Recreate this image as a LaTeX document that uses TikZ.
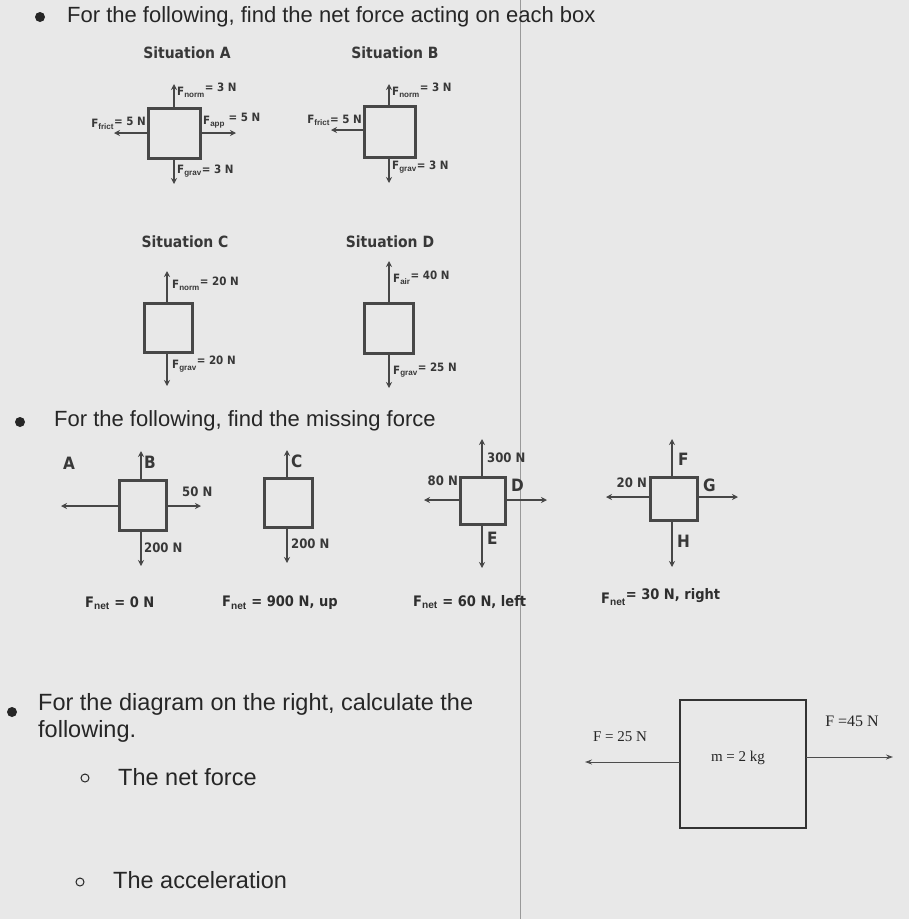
\documentclass[tikz,border=0pt]{standalone}
\usepackage{fontspec}
\usetikzlibrary{arrows.meta}
\setmainfont{Liberation Sans}
\newfontfamily\lab{DejaVu Sans Condensed Bold}
\newfontfamily\serifb{Liberation Serif}
\begin{document}
\begin{tikzpicture}[x=1pt,y=-1pt,
 box/.style={draw=black!72,line width=3pt},
 fa/.style={draw=black!72,line width=2.5pt,-{Stealth[length=6pt,width=6pt]}},
 thin/.style={draw=black!70,line width=1pt,-{Stealth[length=7pt,width=5pt]}},
 lb/.style={font=\lab\fontsize{11.5}{12}\selectfont,text=black!78,inner sep=0pt},
 mid/.style={font=\lab\fontsize{13}{14}\selectfont,text=black!78,inner sep=0pt},
 big/.style={font=\fontsize{17}{18}\selectfont\lab,text=black!78,inner sep=0pt},
 hd/.style={font=\fontsize{22}{26}\selectfont,text=black!85,inner sep=0pt,anchor=west},
 hdl/.style={font=\fontsize{23.5}{27}\selectfont,text=black!85,inner sep=0pt,anchor=west},
 sit/.style={font=\lab\fontsize{15.5}{17}\selectfont,text=black!78,inner sep=0pt},
 fn/.style={font=\lab\fontsize{14.5}{16}\selectfont,text=black!82,inner sep=0pt,anchor=west}]
\fill[gray!18] (0,0) rectangle (909,919);
\useasboundingbox (0,0) rectangle (909,919);
\draw[black!40,line width=0.8pt] (520,0) -- (520,919);
% bullets
\fill[black!85] (40,17) circle (5);
\fill[black!85] (20,422) circle (5);
\fill[black!85] (12,712) circle (5);
\draw[black!85,line width=1pt] (85,778) circle (4);
\draw[black!85,line width=1pt] (80,882) circle (4);
\node[hd] (h1) at (67,17) {For the following, find the net force acting on each box};
\node[hd] (h2) at (54,421) {For the following, find the missing force};
\node[hdl,align=left,anchor=north west] (h3) at (38,693) {For the diagram on the right, calculate the\\following.};
\node[hdl] (h4) at (118,777) {The net force};
\node[hdl] (h5) at (113,880) {The acceleration};
\node[sit] (sa) at (187,53) {Situation A};
\node[sit] (sb) at (395,53) {Situation B};
\node[sit] (sc) at (185,242) {Situation C};
\node[sit] (sd) at (390,242) {Situation D};
% Situation A
\draw[box] (148,108) rectangle (200,158);
\draw[fa] (174,108) -- (174,84);
\draw[fa] (148,133) -- (114,133);
\draw[fa] (200,133) -- (236,133);
\draw[fa] (174,158) -- (174,184);
\node[lb,anchor=west] (an) at (177,90) {F$_{\mathbf{norm}}$\raisebox{4pt}{= 3 N}};
\node[lb,anchor=east] (af) at (146,123) {F$_{\mathbf{frict}}$\raisebox{2pt}{= 5 N}};
\node[lb,anchor=west] (ap) at (203,121) {F$_{\mathbf{app}}$\raisebox{3pt}{ = 5 N}};
\node[lb,anchor=west] (ag) at (177,171) {F$_{\mathbf{grav}}$= 3 N};
% Situation B
\draw[box] (364,106) rectangle (415,157);
\draw[fa] (389,106) -- (389,84);
\draw[fa] (364,130) -- (331,130);
\draw[fa] (389,157) -- (389,183);
\node[lb,anchor=west] (bn) at (392,90) {F$_{\mathbf{norm}}$\raisebox{4pt}{= 3 N}};
\node[lb,anchor=east] (bf) at (362,120) {F$_{\mathbf{frict}}$= 5 N};
\node[lb,anchor=west] (bg) at (392,167) {F$_{\mathbf{grav}}$= 3 N};
% Situation C
\draw[box] (144,303) rectangle (192,352);
\draw[fa] (167,303) -- (167,271);
\draw[fa] (167,352) -- (167,386);
\node[lb,anchor=west] (cn) at (172,284) {F$_{\mathbf{norm}}$\raisebox{3pt}{= 20 N}};
\node[lb,anchor=west] (cg) at (172,364) {F$_{\mathbf{grav}}$\raisebox{4pt}{= 20 N}};
% Situation D
\draw[box] (364,303) rectangle (413,353);
\draw[fa] (389,303) -- (389,261);
\draw[fa] (389,353) -- (389,388);
\node[lb,anchor=west] (dn) at (393,278) {F$_{\mathbf{air}}$\raisebox{3pt}{= 40 N}};
\node[lb,anchor=west] (dg) at (393,370) {F$_{\mathbf{grav}}$\raisebox{3pt}{= 25 N}};
% Missing 1
\draw[box] (119,480) rectangle (166,530);
\draw[fa] (141,480) -- (141,451);
\draw[fa] (119,506) -- (61,506);
\draw[fa] (166,506) -- (201,506);
\draw[fa] (141,530) -- (141,566);
\node[big] (mA) at (69,463) {A};
\node[big,anchor=west] (mB) at (144,462) {B};
\node[mid,anchor=west] (m50) at (182,492) {50 N};
\node[mid,anchor=west] (m200) at (144,548) {200 N};
% Missing 2
\draw[box] (264,478) rectangle (312,527);
\draw[fa] (287,478) -- (287,450);
\draw[fa] (287,527) -- (287,563);
\node[big,anchor=west] (mC) at (291,461) {C};
\node[mid,anchor=west] (m200b) at (291,544) {200 N};
% Missing 3
\draw[box] (460,477) rectangle (505,524);
\draw[fa] (482,477) -- (482,439);
\draw[fa] (460,500) -- (424,500);
\draw[fa] (505,500) -- (547,500);
\draw[fa] (482,524) -- (482,568);
\node[mid,anchor=west] (m300) at (487,458) {300 N};
\node[mid,anchor=east] (m80) at (458,481) {80 N};
\node[big,anchor=west] (mD) at (511,485) {D};
\node[big,anchor=west] (mE) at (487,538) {E};
% Missing 4
\draw[box] (650,477) rectangle (697,520);
\draw[fa] (672,477) -- (672,439);
\draw[fa] (650,497) -- (606,497);
\draw[fa] (697,497) -- (738,497);
\draw[fa] (672,520) -- (672,567);
\node[big,anchor=west] (mF) at (678,459) {F};
\node[big,anchor=west] (mG) at (703,485) {G};
\node[mid,anchor=east] (m20) at (647,483) {20 N};
\node[big,anchor=west] (mH) at (677,541) {H};
\node[fn] (f1) at (85,603) {F$_{\mathbf{net}}$ = 0 N};
\node[fn] (f2) at (222,603) {F$_{\mathbf{net}}$ = 900 N, up};
\node[fn] (f3) at (413,602) {F$_{\mathbf{net}}$ = 60 N, left};
\node[fn] (f4) at (601,597) {F$_{\mathbf{net}}$\raisebox{4pt}{= 30 N, right}};
% bottom
\draw[black!80,line width=1.2pt] (680,700) rectangle (806,828);
\coordinate (L) at (585,762); \coordinate (R) at (893,757);
\draw[thin] (680,762) -- (L);
\draw[thin] (806,757) -- (R);
\node[font=\serifb\fontsize{15}{17}\selectfont,text=black!85] (t1) at (620,737) {F = 25 N};
\node[font=\serifb\fontsize{15}{17}\selectfont,text=black!85] (t2) at (738,758) {m = 2 kg};
\node[font=\serifb\fontsize{16}{17}\selectfont,text=black!85] (t3) at (852,721) {F =45 N};
\end{tikzpicture}
\end{document}
